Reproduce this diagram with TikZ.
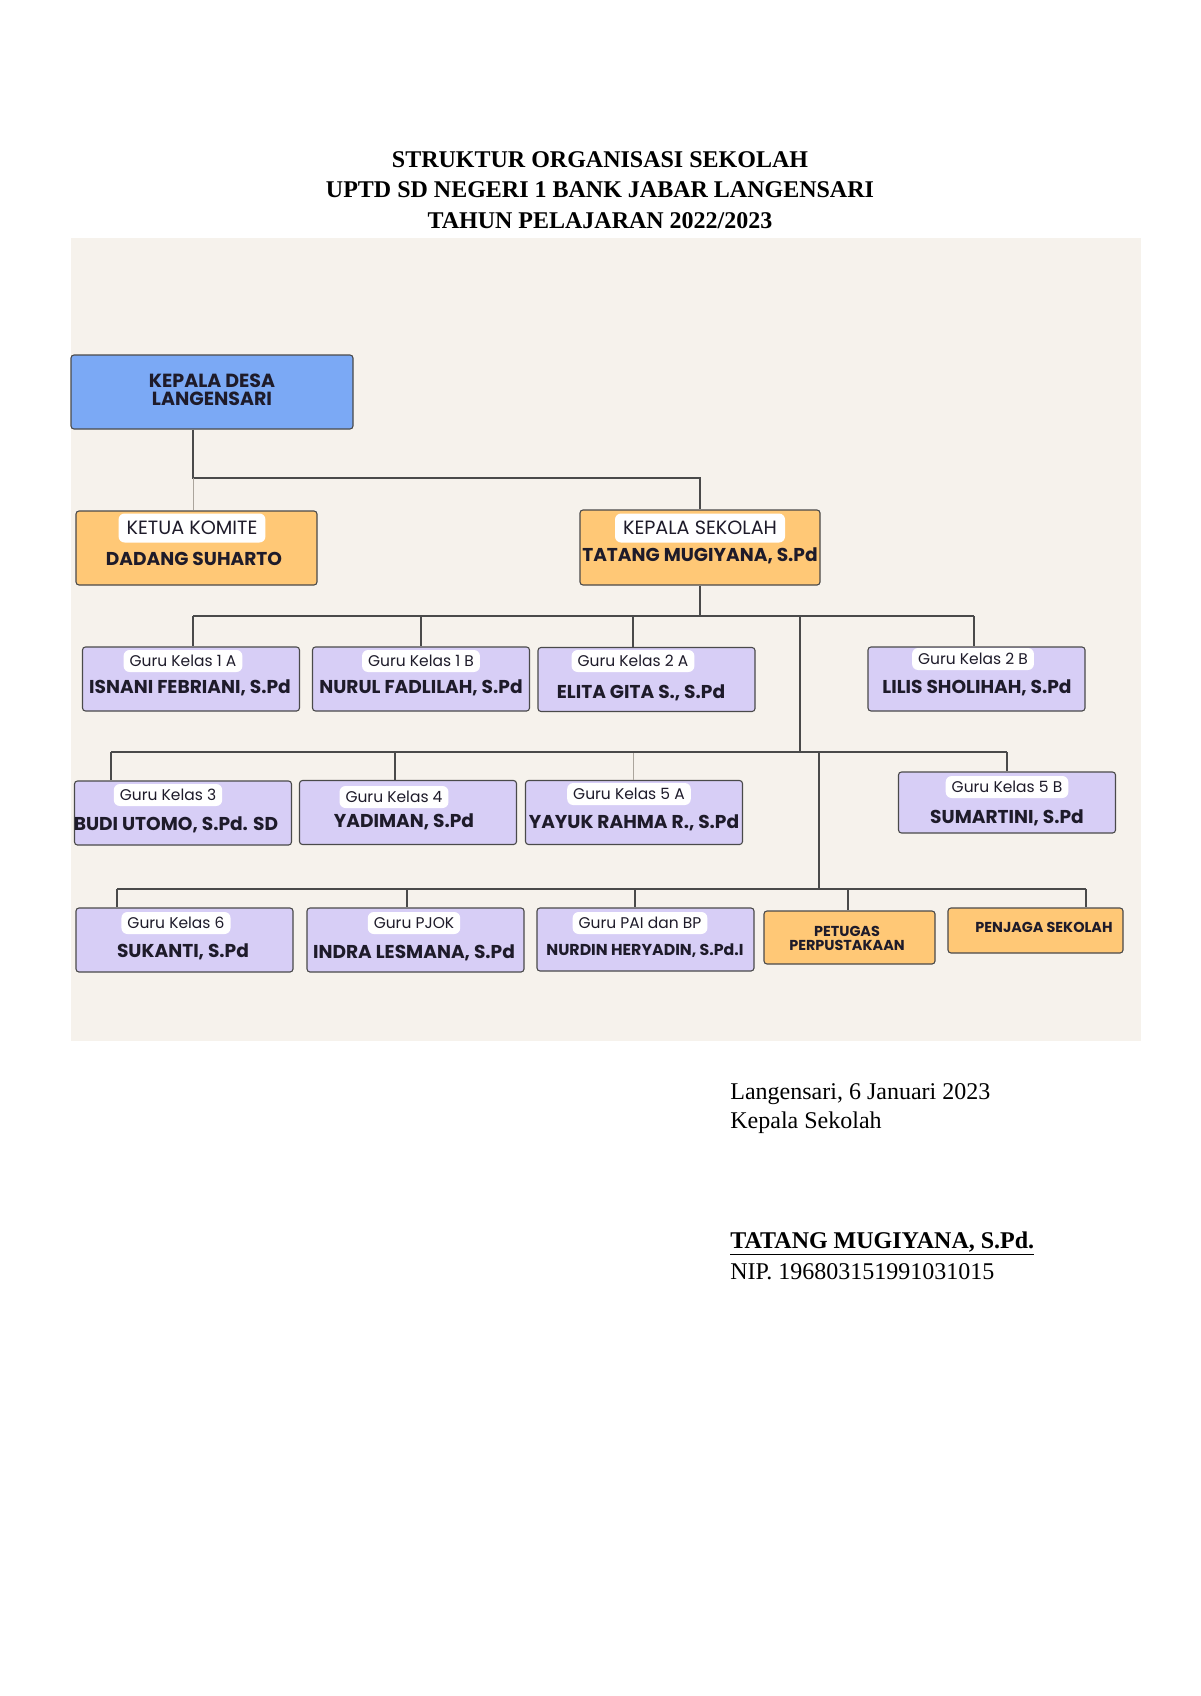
\documentclass[tikz,border=0pt]{standalone}
\usepackage{fontspec}
\setmainfont{Liberation Serif}
\newfontfamily\boxfont{Poppins}
\usetikzlibrary{positioning}

\definecolor{paper}{HTML}{F6F2EC}
\definecolor{desablue}{HTML}{7BA9F5}
\definecolor{jingga}{HTML}{FFC876}
\definecolor{ungu}{HTML}{D7CEF6}
\definecolor{garis}{HTML}{4A4A4A}
\definecolor{garismuda}{HTML}{ABA59C}
\definecolor{tinta}{HTML}{1E1B2A}

\tikzset{
  kotak/.style={draw=garis, line width=0.55pt, rounded corners=1.5pt, inner sep=0pt},
  guru/.style={kotak, fill=ungu, minimum width=108.5pt, minimum height=32pt},
  staf/.style={kotak, fill=jingga},
  pill/.style={fill=white, rounded corners=3pt, inner xsep=3pt, inner ysep=0pt,
    minimum height=11pt, text=tinta, font=\boxfont\fontsize{7.75}{9}\selectfont},
  pillbesar/.style={pill, minimum height=14.5pt, inner xsep=4pt, font=\boxfont\fontsize{9.6}{10}\selectfont},
  nama/.style={text=tinta, inner sep=0pt, font=\boxfont\bfseries\fontsize{9.3}{10}\selectfont},
  namakecil/.style={nama, font=\boxfont\bfseries\fontsize{7.9}{8}\selectfont},
  hub/.style={draw=garis, line width=0.6pt},
  hubmuda/.style={draw=garismuda, line width=0.5pt},
  judul/.style={anchor=base, inner sep=0pt, font=\bfseries\fontsize{12}{15}\selectfont},
  ttd/.style={anchor=base west, inner sep=0pt, font=\fontsize{12}{15}\selectfont},
}

\begin{document}
\begin{tikzpicture}[x=0.5pt,y=-0.5pt]
  \useasboundingbox (0,0) rectangle (1200,1696);
  \fill[white] (0,0) rectangle (1200,1696);
  \fill[paper] (71,238) rectangle (1141,1041);

  % judul
  \node[judul] (judul1) at (600,168) {STRUKTUR ORGANISASI SEKOLAH};
  \node[judul] (judul2) at (600,198) {UPTD SD NEGERI 1 BANK JABAR LANGENSARI};
  \node[judul] (judul3) at (600,228) {TAHUN PELAJARAN 2022/2023};

  % pimpinan
  \node[kotak, fill=desablue, minimum width=141pt, minimum height=37pt] (desa) at (212,392) {};
  \node[nama, align=center, font=\boxfont\bfseries\fontsize{9.5}{8.8}\selectfont] (desan) at (212,390) {KEPALA DESA\\LANGENSARI};
  \node[staf, minimum width=120.5pt, minimum height=37pt] (komite) at (196.5,548) {};
  \node[pillbesar] (komitet) at (192,528) {KETUA KOMITE};
  \node[nama] (komiten) at (194,559) {DADANG SUHARTO};
  \node[staf, minimum width=120pt, minimum height=37.5pt] (kepsek) at (700,547.5) {};
  \node[pillbesar] (kepsekt) at (700,528) {KEPALA SEKOLAH};
  \node[nama] (kepsekn) at (700,556) {TATANG MUGIYANA, S.Pd};

  \coordinate (cabang) at (193,478);
  \draw[hub] (desa.south -| cabang) -- (cabang) -| (kepsek.north);
  \draw[hubmuda] (cabang) -- (cabang |- komite.north);

  % baris 1
  \node[guru] (k1a) at (191,679) {};
  \node[pill] (k1at) at (183,661) {Guru Kelas 1 A};
  \node[nama] (k1an) at (190,688) {ISNANI FEBRIANI, S.Pd};
  \node[guru] (k1b) at (421,679) {};
  \node[pill] (k1bt) at (421,661) {Guru Kelas 1 B};
  \node[nama] (k1bn) at (421,688) {NURUL FADLILAH, S.Pd};
  \node[guru] (k2a) at (646.5,679.5) {};
  \node[pill] (k2at) at (633,661) {Guru Kelas 2 A};
  \node[nama] (k2an) at (641,693) {ELITA GITA S., S.Pd};
  \node[guru] (k2b) at (976.5,679) {};
  \node[pill] (k2bt) at (973,659) {Guru Kelas 2 B};
  \node[nama] (k2bn) at (977,688) {LILIS SHOLIHAH, S.Pd};

  \foreach \x/\n in {193/k1a,421/k1b,633/k2a,974/k2b} {
    \coordinate (j\n) at (\x,616);
    \draw[hub] (j\n) -- (j\n |- \n.north);
  }
  \draw[hub] (jk1a) -- (jk2b);
  \draw[hub] (kepsek.south) -- (kepsek.south |- jk1a);

  % baris 2
  \node[guru] (k3) at (183,813) {};
  \node[pill] (k3t) at (168,795) {Guru Kelas 3};
  \node[nama] (k3n) at (176,825) {BUDI UTOMO, S.Pd. SD};
  \node[guru] (k4) at (408,812.5) {};
  \node[pill] (k4t) at (394,797) {Guru Kelas 4};
  \node[nama] (k4n) at (404,822) {YADIMAN, S.Pd};
  \node[guru] (k5a) at (634,812.5) {};
  \node[pill] (k5at) at (629,794) {Guru Kelas 5 A};
  \node[nama] (k5an) at (634,823) {YAYUK RAHMA R., S.Pd};
  \node[guru, minimum height=30.5pt] (k5b) at (1007,802.5) {};
  \node[pill] (k5bt) at (1007,787) {Guru Kelas 5 B};
  \node[nama] (k5bn) at (1007,818) {SUMARTINI, S.Pd};

  \coordinate (tr1) at (800,616);
  \foreach \x/\n in {111/k3,395/k4,1007/k5b} {
    \coordinate (j\n) at (\x,752);
    \draw[hub] (j\n) -- (j\n |- \n.north);
  }
  \coordinate (jk5a) at (633,752);
  \draw[hubmuda] (jk5a) -- (jk5a |- k5a.north);
  \draw[hub] (jk3) -- (jk5b);
  \draw[hub] (tr1) -- (tr1 |- jk3);

  % baris 3
  \node[guru] (k6) at (184.5,940) {};
  \node[pill] (k6t) at (176,923) {Guru Kelas 6};
  \node[nama] (k6n) at (183,952) {SUKANTI, S.Pd};
  \node[guru] (pjok) at (415.5,940) {};
  \node[pill] (pjokt) at (414,923) {Guru PJOK};
  \node[nama] (pjokn) at (414,953) {INDRA LESMANA, S.Pd};
  \node[guru, minimum height=31.5pt] (pai) at (645.5,939.5) {};
  \node[pill] (pait) at (640,923) {Guru PAI dan BP};
  \node[namakecil] (pain) at (645,951) {NURDIN HERYADIN, S.Pd.I};
  \node[staf, minimum width=85.5pt, minimum height=26.5pt] (petugas) at (849.5,937.5) {};
  \node[namakecil, align=center, font=\boxfont\bfseries\fontsize{7.2}{7}\selectfont] (petugasn) at (847,938) {PETUGAS\\PERPUSTAKAAN};
  \node[staf, minimum width=87.5pt, minimum height=22.5pt] (penjaga) at (1035.5,930.5) {};
  \node[namakecil, font=\boxfont\bfseries\fontsize{7.2}{7}\selectfont] (penjagan) at (1044,927) {PENJAGA SEKOLAH};

  \coordinate (tr2) at (819,752);
  \foreach \x/\n in {117/k6,407/pjok,635/pai,848/petugas,1086/penjaga} {
    \coordinate (j\n) at (\x,889);
    \draw[hub] (j\n) -- (j\n |- \n.north);
  }
  \draw[hub] (jk6) -- (jpenjaga);
  \draw[hub] (tr2) -- (tr2 |- jk6);

  % tanda tangan
  \node[ttd] (tanggal) at (730,1099) {Langensari, 6 Januari 2023};
  \node[ttd] (jabatan) at (730,1128) {Kepala Sekolah};
  \node[ttd, font=\bfseries\fontsize{12}{15}\selectfont] (kepsekttd) at (730,1248) {\underline{TATANG MUGIYANA, S.Pd.}};
  \node[ttd] (nip) at (730,1279) {NIP. 196803151991031015};
\end{tikzpicture}
\end{document}
